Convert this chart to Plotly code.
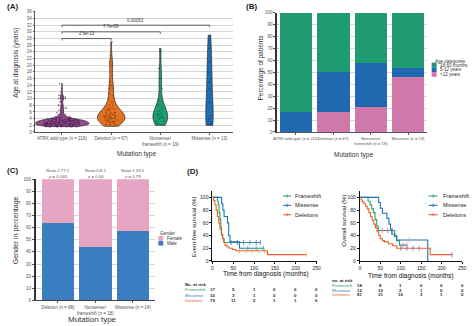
import numpy as np
import plotly.graph_objects as go

W, H = 474, 326
FONT = "Arial, Liberation Sans, sans-serif"


def px(x):
    return x / W


def py(y):
    return 1 - y / H


# ---------------- (A) age at diagnosis by mutation type ----------------
a_categories = ["ATRX wild-type (n = 216)", "Deletion (n = 67)",
                "Nonsense/<br>frameshift (n = 19)", "Missense (n = 13)"]
wt_age = [1.6, 1.8, 2.0, 2.2, 2.4, 2.6, 2.8, 3.0, 3.2, 3.4, 3.6, 3.8, 4.0, 4.3, 4.7,
          5.2, 5.8, 6.5, 7.2, 8, 9, 10, 10.5, 11, 12, 13, 14.5]
wt_count = [10, 14, 17, 16, 16, 16, 16, 15, 15, 14, 12, 10, 8, 5, 4,
            3, 3, 3, 3, 3, 2, 4, 2, 2, 1, 1, 1]
del_age = [1.7, 2.2, 2.8, 3.2, 3.6, 4.0, 4.4, 4.8, 5.2, 5.8, 6.5, 7, 8, 9, 10,
           11, 11.5, 13, 14, 15, 17, 18, 20, 21, 23, 27]
del_count = [2, 3, 4, 4, 4, 5, 6, 5, 5, 4, 3, 3, 2, 2, 2,
             1, 1, 2, 2, 1, 1, 1, 2, 1, 1, 1]
nf_age = [2.0, 2.5, 3.2, 3.8, 4.3, 4.8, 5.2, 5.6, 6.2, 7, 8, 9.5, 13, 16, 19, 25]
nf_count = [1, 1, 2, 1, 2, 1, 2, 1, 1, 1, 1, 1, 1, 1, 1, 1]
mis_age = [2.0, 2.3, 2.8, 3.2, 4.0, 4.8, 9, 13, 15, 18, 21, 25, 29]
mis_count = [1] * 13

a_groups = [(wt_age, wt_count), (del_age, del_count), (nf_age, nf_count), (mis_age, mis_count)]
a_fill = ["#924c8c", "#e2701f", "#1c9b74", "#1f6db3"]
a_dots = ["#5a2356", "#8a3d0a", "#0c5a42", "#0e3d6a"]
a_width = [1.1, 0.56, 0.3, 0.15]

# pairwise comparisons (group index pairs, bracket height, p value)
cmp_from = [0, 0, 0]
cmp_to = [1, 2, 3]
cmp_y = [28, 30, 32]
cmp_p = ["2.6e-13", "7.7e-09", "0.00053"]

# ---------------- (B) age categories (%) ----------------
b_categories = ["ATRX wild-type (n = 216)", "Deletion (n = 67)",
                "Nonsense/<br>frameshift (n = 19)", "Missense (n = 13)"]
b_over12 = [0.0, 16.4, 21.1, 46.2]
b_5to12 = [16.7, 34.3, 36.8, 7.7]
b_18to60m = [83.3, 49.3, 42.1, 46.2]
b_names = ["18-60 months", "5-12 years", ">12 years"]
b_colors = ["#1f9b72", "#1f69b1", "#d078aa"]

# ---------------- (C) gender (%) ----------------
c_categories = ["Deletion (n = 88)", "Nonsense/<br>frameshift (n = 18)", "Missense (n = 14)"]
c_male = [63.6, 44.4, 57.1]
c_female = [36.4, 55.6, 42.9]
c_ratio = ["Ratio 1.77:1", "Ratio 0.8:1", "Ratio 1.33:1"]
c_p = ["<i>p</i> = 0.040", "<i>p</i> = 0.64", "<i>p</i> = 0.79"]
c_colors = {"Female": "#e6a5c2", "Male": "#3b7ec0"}

# ---------------- (D) Kaplan-Meier curves ----------------
km_names = ["Frameshift", "Missense", "Deletions"]
km_colors = ["#27a06f", "#1a74b8", "#e8632b"]

efs_fs_t = [0, 12, 14, 16, 18, 20, 22, 25, 28, 115]
efs_fs_s = [100, 94, 88, 76, 65, 53, 41, 35, 29, 29]
efs_fs_cens = [45, 60, 75, 90, 105, 115]
efs_mis_t = [0, 22, 25, 28, 36, 39, 42, 65, 122]
efs_mis_s = [100, 90, 80, 70, 60, 40, 30, 20, 20]
efs_mis_cens = [85, 105, 122]
efs_del_t = [0, 3, 6, 9, 12, 15, 18, 21, 24, 27, 30, 35, 40, 48, 55, 132, 225]
efs_del_s = [100, 95, 88, 80, 70, 60, 50, 42, 35, 29, 25, 22, 20, 18, 16, 10, 10]
efs_del_cens = [65, 80, 95, 110, 125, 225]

os_fs_t = [0, 20, 25, 29, 33, 37, 41, 45, 85, 90, 97, 115]
os_fs_s = [100, 94, 88, 82, 76, 65, 55, 48, 40, 32, 25, 25]
os_fs_cens = [55, 68, 80, 105, 115]
os_mis_t = [0, 46, 50, 55, 66, 71, 75, 78, 85, 90, 166]
os_mis_s = [100, 92, 83, 75, 67, 58, 50, 42, 38, 33, 0]
os_mis_cens = [120]
os_del_t = [0, 3, 6, 10, 14, 18, 22, 26, 30, 34, 38, 42, 46, 50, 55, 60, 70, 80, 90, 172, 225]
os_del_s = [100, 96, 93, 90, 86, 82, 76, 70, 64, 58, 52, 46, 40, 35, 32, 30, 27, 24, 20, 10, 10]
os_del_cens = [100, 115, 130, 145, 225]

risk_times = [0, 50, 100, 150, 200, 250]
efs_risk = [[17, 5, 1, 0, 0, 0], [10, 3, 1, 0, 0, 0], [79, 11, 5, 1, 1, 0]]
os_risk = [[18, 8, 1, 0, 0, 0], [12, 10, 2, 1, 0, 0], [81, 31, 10, 3, 1, 0]]

efs_curves = [(efs_fs_t, efs_fs_s, efs_fs_cens), (efs_mis_t, efs_mis_s, efs_mis_cens),
              (efs_del_t, efs_del_s, efs_del_cens)]
os_curves = [(os_fs_t, os_fs_s, os_fs_cens), (os_mis_t, os_mis_s, os_mis_cens),
             (os_del_t, os_del_s, os_del_cens)]


def step_at(t, s, when):
    idx = np.searchsorted(np.asarray(t), np.asarray(when), side="right") - 1
    return np.asarray(s)[np.clip(idx, 0, len(s) - 1)]


fig = go.Figure()

# violins
for i, ((ages, counts), fc, dc, w) in enumerate(zip(a_groups, a_fill, a_dots, a_width)):
    y = np.repeat(ages, counts)
    fig.add_trace(go.Violin(
        x=np.full(len(y), i), y=y, xaxis="x", yaxis="y",
        width=w, scalemode="width", spanmode="hard",
        fillcolor=fc, line=dict(color="#2a2a2a", width=0.7), opacity=1,
        points="all", pointpos=0, jitter=0.7,
        marker=dict(size=1.6, color=dc, opacity=0.7),
        box_visible=False, meanline_visible=False,
        showlegend=False, hoverinfo="skip"))

# stacked bars (B)
for vals, name, col in [(b_over12, b_names[2], b_colors[2]),
                        (b_5to12, b_names[1], b_colors[1]),
                        (b_18to60m, b_names[0], b_colors[0])]:
    fig.add_trace(go.Bar(x=list(range(4)), y=vals, name=name, marker=dict(color=col, line_width=0),
                         xaxis="x2", yaxis="y2", showlegend=False))

# stacked bars (C)
for vals, name in [(c_male, "Male"), (c_female, "Female")]:
    fig.add_trace(go.Bar(x=list(range(3)), y=vals, name=name,
                         marker=dict(color=c_colors[name], line_width=0),
                         xaxis="x3", yaxis="y3", showlegend=False))

# Kaplan-Meier curves with censor ticks
for curves, xa, ya in [(efs_curves, "x4", "y4"), (os_curves, "x5", "y5")]:
    for (t, s, cens), col in zip(curves, km_colors):
        fig.add_trace(go.Scatter(x=t, y=s, mode="lines", line=dict(color=col, width=1.1, shape="hv"),
                                 xaxis=xa, yaxis=ya, showlegend=False, hoverinfo="skip"))
        fig.add_trace(go.Scatter(x=cens, y=step_at(t, s, cens), mode="markers",
                                 marker=dict(symbol="line-ns-open", size=3.5,
                                             line=dict(color=col, width=0.9)),
                                 xaxis=xa, yaxis=ya, showlegend=False, hoverinfo="skip"))

shapes = []
ann = []


def text(x, y, s, size=5, color="#333", xanchor="center", yanchor="middle", angle=0, **kw):
    ann.append(dict(x=x, y=y, text=s, showarrow=False, xanchor=xanchor, yanchor=yanchor,
                    textangle=angle, font=dict(family=FONT, size=size, color=color), **kw))


# comparison brackets (A)
for a, b, yv, p in zip(cmp_from, cmp_to, cmp_y, cmp_p):
    shapes.append(dict(type="path", xref="x", yref="y",
                       path=f"M {a},{yv - 0.6} L {a},{yv} L {b},{yv} L {b},{yv - 0.6}",
                       line=dict(color="#444", width=0.8)))
    text((a + b) / 2, yv + 0.15, p, size=4.5, xref="x", yref="y", yanchor="bottom", color="#333")

# ratio / p annotations (C)
for i, (r, p) in enumerate(zip(c_ratio, c_p)):
    text(i, py(171), r, size=4.3, xref="x3", yref="paper", color="#555")
    text(i, py(177), p, size=4.3, xref="x3", yref="paper", color="#555")

# panel labels
for lab, x, y in [("(A)", 1, 5), ("(B)", 244, 5), ("(C)", 1, 171), ("(D)", 184, 172)]:
    text(px(x), py(y), f"<b>{lab}</b>", size=8, color="#222", xanchor="left", xref="paper", yref="paper")

# axis titles
text(px(12), py(62), "Age at diagnosis (years)", size=6.5, angle=-90, xref="paper", yref="paper")
text(px(135), py(154), "Mutation type", size=6.5, xref="paper", yref="paper")
text(px(261), py(67), "Percentage of patients", size=6.5, angle=-90, xref="paper", yref="paper")
text(px(355), py(155), "Mutation type", size=6.5, xref="paper", yref="paper")
text(px(13), py(232), "Gender in percentage", size=7, angle=-90, xref="paper", yref="paper")
text(px(90), py(322), "Mutation type", size=8, xref="paper", yref="paper")
text(px(193), py(228), "Event-free survival (%)", size=6, angle=-90, color="#111", xref="paper", yref="paper")
text(px(345), py(222), "Overall survival (%)", size=6, angle=-90, color="#111", xref="paper", yref="paper")
text(px(267), py(276.5), "Time from diagnosis (months)", size=6.5, color="#111", xref="paper", yref="paper")
text(px(414), py(278), "Time from diagnosis (months)", size=6.5, color="#111", xref="paper", yref="paper")

# legend (B)
text(px(436), py(60), "Age categories", size=4.5, xanchor="left", xref="paper", yref="paper")
for k, (name, col) in enumerate(zip(b_names, b_colors)):
    yc = 64 + 4.8 * k
    shapes.append(dict(type="rect", xref="paper", yref="paper", x0=px(435), x1=px(440),
                       y0=py(yc - 2.4), y1=py(yc + 2.4), fillcolor=col, line_width=0))
    text(px(441.5), py(yc), name, size=4.5, xanchor="left", xref="paper", yref="paper")

# legend (C)
text(px(157), py(235), "Gender", size=4.5, xanchor="left", xref="paper", yref="paper")
for k, name in enumerate(["Female", "Male"]):
    yc = 240 + 5 * k
    shapes.append(dict(type="rect", xref="paper", yref="paper", x0=px(157), x1=px(162),
                       y0=py(yc - 2.4), y1=py(yc + 2.4), fillcolor=c_colors[name], line_width=0))
    text(px(163.5), py(yc), name, size=4.5, xanchor="left", xref="paper", yref="paper")

# KM legends and numbers at risk
for (lx0, lx1, tx), risk, xa, (hx, hy, hlab), rows in [
        ((284, 292, 294), efs_risk, "x4", (182, 287, "No. at risk"), [292, 298, 303.5]),
        ((432, 441, 445), os_risk, "x5", (332, 282.5, "no. at risk"), [287.5, 292.5, 297.5])]:
    for k, (name, col) in enumerate(zip(km_names, km_colors)):
        yc = [197, 206.5, 216][k]
        shapes.append(dict(type="line", xref="paper", yref="paper", x0=px(lx0), x1=px(lx1),
                           y0=py(yc), y1=py(yc), line=dict(color=col, width=1.1)))
        xm = (lx0 + lx1) / 2
        shapes.append(dict(type="line", xref="paper", yref="paper", x0=px(xm), x1=px(xm),
                           y0=py(yc - 1.6), y1=py(yc + 1.6), line=dict(color=col, width=0.9)))
        text(px(tx), py(yc), name, size=5.5, color="#222", xanchor="left", xref="paper", yref="paper")
    text(px(hx), py(hy), f"<b>{hlab}</b>", size=4.3, color="#222", xanchor="left",
         xref="paper", yref="paper")
    for k, (name, col) in enumerate(zip(km_names, km_colors)):
        text(px(hx), py(rows[k]), name, size=4.3, color=col, xanchor="left", xref="paper", yref="paper")
        for tv, n in zip(risk_times, risk[k]):
            text(tv, py(rows[k]), f"<b>{n}</b>", size=4.3, color="#222", xref=xa, yref="paper")

tick_font = dict(family=FONT, size=4.5, color="#555")
km_tick_font = dict(family=FONT, size=5, color="#222")

layout_axes = dict(
    xaxis=dict(domain=[px(32), px(233)], range=[-0.54, 3.48], anchor="y",
               tickvals=list(range(4)), ticktext=a_categories, tickfont=tick_font, tickangle=0,
               showline=True, linecolor="#555", linewidth=0.8, ticks="outside", ticklen=2,
               tickcolor="#555", showgrid=False, zeroline=False),
    yaxis=dict(domain=[py(132), py(10)], range=[0, 36], anchor="x", dtick=2, tickfont=tick_font,
               showgrid=True, gridcolor="#d6d6d6", gridwidth=0.6, showline=True, linecolor="#555",
               linewidth=0.8, ticks="outside", ticklen=2, tickcolor="#555", zeroline=False),
    xaxis2=dict(domain=[px(278), px(430)], range=[-0.5, 3.5], anchor="y2", tickangle=0,
                tickvals=list(range(4)), ticktext=b_categories,
                tickfont=dict(family=FONT, size=4.1, color="#555"),
                showline=True, linecolor="#555", linewidth=0.8, ticks="outside", ticklen=2,
                tickcolor="#555", showgrid=False, zeroline=False),
    yaxis2=dict(domain=[py(132), py(11)], range=[0, 100], anchor="x2", dtick=10, tickfont=tick_font,
                showgrid=True, gridcolor="#d6d6d6", gridwidth=0.6, showline=True, linecolor="#333",
                linewidth=2, ticks="outside", ticklen=2, tickcolor="#555", zeroline=False),
    xaxis3=dict(domain=[px(33), px(154)], range=[-0.57, 2.6], anchor="y3", tickangle=0,
                tickvals=list(range(3)), ticktext=c_categories,
                tickfont=dict(family=FONT, size=4.5, color="#555"),
                showline=True, linecolor="#444", linewidth=0.8, ticks="outside", ticklen=2,
                tickcolor="#555", showgrid=False, zeroline=False),
    yaxis3=dict(domain=[py(303), py(180)], range=[0, 100], anchor="x3", dtick=10, tickfont=tick_font,
                showgrid=True, gridcolor="#d6d6d6", gridwidth=0.6, showline=True, linecolor="#333",
                linewidth=2.2, ticks="outside", ticklen=2.5, tickcolor="#555", zeroline=False),
)
for xa, ya, dom in [("xaxis4", "yaxis4", [px(212), px(318)]), ("xaxis5", "yaxis5", [px(362), px(466)])]:
    layout_axes[xa] = dict(domain=dom, range=[0, 250], anchor="y" + ya[-1], dtick=50, tickangle=0,
                           tickfont=km_tick_font, showline=True, linecolor="#111", linewidth=1,
                           ticks="outside", ticklen=2, tickcolor="#111", showgrid=False, zeroline=False)
    layout_axes[ya] = dict(domain=[py(263), py(192)], range=[0, 110], anchor="x" + xa[-1],
                           tickvals=[0, 20, 40, 60, 80, 100], tickfont=km_tick_font,
                           showline=True, linecolor="#111", linewidth=1, ticks="outside", ticklen=2,
                           tickcolor="#111", showgrid=False, zeroline=False)

fig.update_layout(
    width=W, height=H, margin=dict(l=0, r=0, t=0, b=0),
    paper_bgcolor="white", plot_bgcolor="white",
    font=dict(family=FONT, size=5, color="#333"),
    barmode="stack", bargap=0.135, violinmode="overlay",
    showlegend=False, shapes=shapes, annotations=ann,
    **layout_axes,
)

fig.write_html("out.html")
